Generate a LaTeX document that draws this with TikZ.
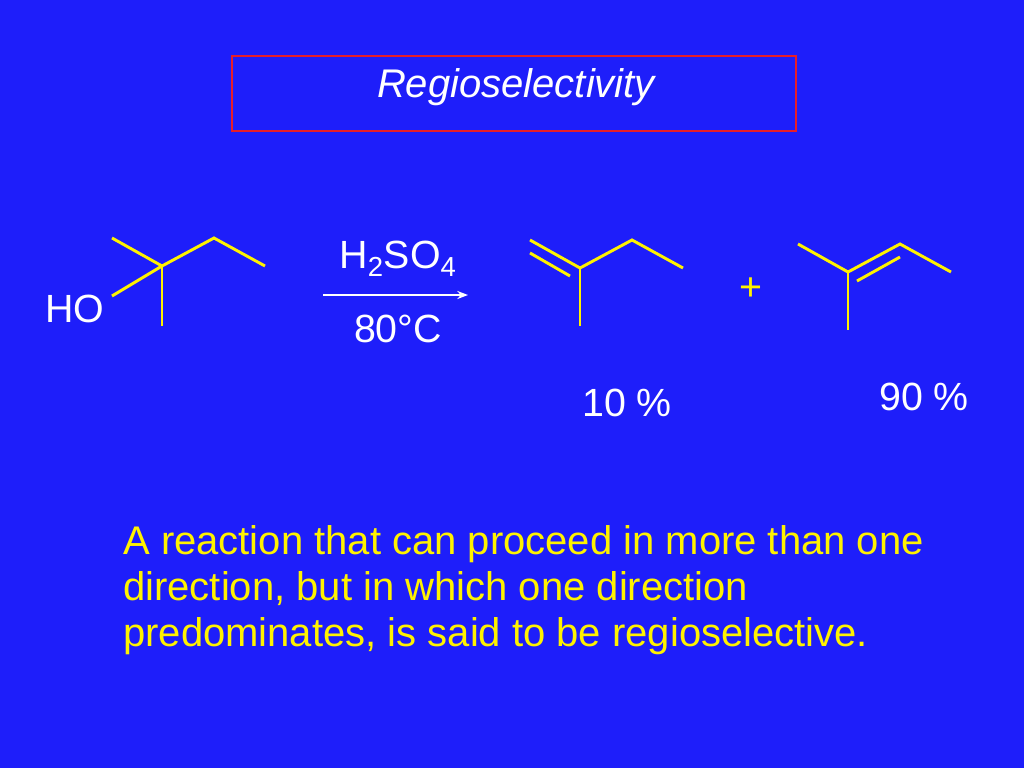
\documentclass[tikz,border=0pt]{standalone}
\usepackage{fontspec}
\usetikzlibrary{arrows.meta}
\setmainfont{Liberation Sans}
\begin{document}
\begin{tikzpicture}[x=0.75pt,y=-0.75pt,
  bond/.style={draw=yellow,line width=2.2pt},
  wt/.style={text=white,inner sep=0pt,font=\fontsize{29.5}{34}\selectfont},
  yt/.style={text=yellow,inner sep=0pt}]
\fill[fill={rgb,255:red,30;green,30;blue,250}] (0,0) rectangle (1024,768);
\useasboundingbox (0,0) rectangle (1024,768);
\node[draw={rgb,255:red,230;green,30;blue,40},line width=1.5pt,minimum width=423pt,minimum height=56pt] (tb) at (514,93.5) {};
\node[wt,font=\itshape\fontsize{30}{34}\selectfont] (title) at (516,87) {Regioselectivity};
% molecule 1
\coordinate (a1) at (112,238); \coordinate (a2) at (162,266); \coordinate (a3) at (214,238);
\coordinate (a4) at (265,266); \coordinate (a5) at (162,326); \coordinate (a6) at (112,296);
\draw[bond] (a1)--(a2)--(a3)--(a4); \draw[bond] (a2)--(a5); \draw[bond] (a2)--(a6);
\node[wt] (ho) at (75,309) {HO};
% arrow
\coordinate (r1) at (323,295); \coordinate (r2) at (468,295);
\draw[white,line width=1.5pt,-{Stealth[length=8pt,width=6pt]}] (r1)--(r2);
\node[wt] (cat) at (398,259) {H\textsubscript{2}SO\textsubscript{4}};
\node[wt] (temp) at (398,329) {80°C};
% molecule 2
\coordinate (b1) at (530,240); \coordinate (b2) at (580,268); \coordinate (b3) at (632,240);
\coordinate (b4) at (683,268); \coordinate (b5) at (580,326);
\coordinate (b1i) at (530,253); \coordinate (b2i) at (570,276);
\draw[bond] (b1)--(b2)--(b3)--(b4); \draw[bond] (b2)--(b5); \draw[bond] (b1i)--(b2i);
\node[yt,font=\fontsize{29.5}{34}\selectfont] (plus) at (751,289) {+};
% molecule 3
\coordinate (c1) at (798,244); \coordinate (c2) at (848,272); \coordinate (c3) at (900,244);
\coordinate (c4) at (951,272); \coordinate (c5) at (848,330);
\coordinate (c2i) at (857,281); \coordinate (c3i) at (900,257);
\draw[bond] (c1)--(c2)--(c3)--(c4); \draw[bond] (c2)--(c5); \draw[bond] (c2i)--(c3i);
\node[wt] (p10) at (627,403) {10 \%};
\node[wt] (p90) at (924,397) {90 \%};
\node[yt,font=\fontsize{30}{34.5}\selectfont,anchor=north west,align=left] (para) at (123,525)
{A reaction that can proceed in more than one\\direction, but in which one direction\\predominates, is said to be regioselective.};
\end{tikzpicture}
\end{document}
